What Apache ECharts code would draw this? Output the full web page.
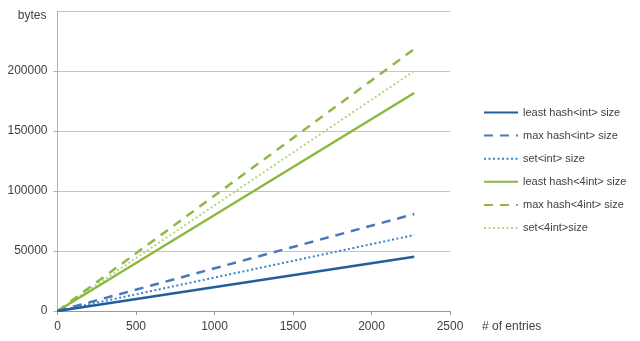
<!DOCTYPE html>
<html><head><meta charset="utf-8">
<script src="https://cdn.jsdelivr.net/npm/echarts@6/dist/echarts.min.js"></script>
<style>html,body{margin:0;padding:0;background:#fff}#c{width:640px;height:341px}</style>
</head><body><div id="c"></div>
<script>
const entries = [0, 2272];
const leastHashInt = [0, 45200];
const maxHashInt = [0, 80800];
const setInt = [0, 63300];
const leastHash4Int = [0, 181700];
const maxHash4Int = [0, 218300];
const set4Int = [0, 200000];
const seriesNames = ['least hash<int> size','max hash<int> size','set<int> size','least hash<4int> size','max hash<4int> size','set<4int>size'];
const seriesValues = [leastHashInt, maxHashInt, setInt, leastHash4Int, maxHash4Int, set4Int];
const styles = [
  {color:'#235D9C', type:'solid', width:2.5},
  {color:'#4A78BA', type:[9,7], width:2.5},
  {color:'#3F7FD2', type:[2,2.5], width:2},
  {color:'#8BB83F', type:'solid', width:2.5},
  {color:'#8DB847', type:[9,7], width:2.5},
  {color:'#B8D486', type:[2,2.5], width:2}
];
const font = 'Liberation Sans';
const chart = echarts.init(document.getElementById('c'), null, {renderer:'canvas'});
chart.setOption({
  animation:false,
  backgroundColor:'#fff',
  textStyle:{fontFamily:font},
  grid:{left:57.5, right:190, top:11, bottom:30, containLabel:false},
  legend:{
    orient:'vertical', left:483, top:107, padding:0, itemWidth:34, itemHeight:11, itemGap:12.1,
    itemStyle:{opacity:0, borderWidth:0},
    textStyle:{fontFamily:font, fontSize:11, color:'#404040'},
    data:seriesNames
  },
  xAxis:{
    type:'value', min:0, max:2500, interval:500,
    name:'# of entries', nameLocation:'end', nameGap:32,
    nameTextStyle:{fontFamily:font, fontSize:12, color:'#404040', align:'left', verticalAlign:'top', padding:[10,0,0,0]},
    axisLine:{show:true, lineStyle:{color:'#9a9a9a', width:1}},
    axisTick:{show:true, length:4, lineStyle:{color:'#9a9a9a'}},
    axisLabel:{fontFamily:font, fontSize:12, color:'#404040', margin:10, formatter:v=>String(v)},
    splitLine:{show:false}
  },
  yAxis:{
    type:'value', min:0, max:250000, interval:50000,
    name:'bytes', nameLocation:'end', nameGap:1,
    nameTextStyle:{fontFamily:font, fontSize:12, color:'#404040', align:'right', verticalAlign:'top', padding:[0,11,0,0]},
    axisLine:{show:true, lineStyle:{color:'#b0b0b0', width:1}},
    axisTick:{show:true, length:4, lineStyle:{color:'#b0b0b0'}},
    axisLabel:{fontFamily:font, fontSize:12, color:'#404040', margin:10, showMaxLabel:false, formatter:v=>String(v)},
    splitLine:{show:true, lineStyle:{color:'#c4c4c4', width:1}}
  },
  series: seriesNames.map((n,i)=>({
    name:n, type:'line', symbol:'none', showSymbol:false,
    data: entries.map((x,j)=>[x, seriesValues[i][j]]),
    lineStyle:{color:styles[i].color, type:styles[i].type, width:styles[i].width},
    itemStyle:{color:styles[i].color},
    z: 10 - i
  }))
});
</script></body></html>
